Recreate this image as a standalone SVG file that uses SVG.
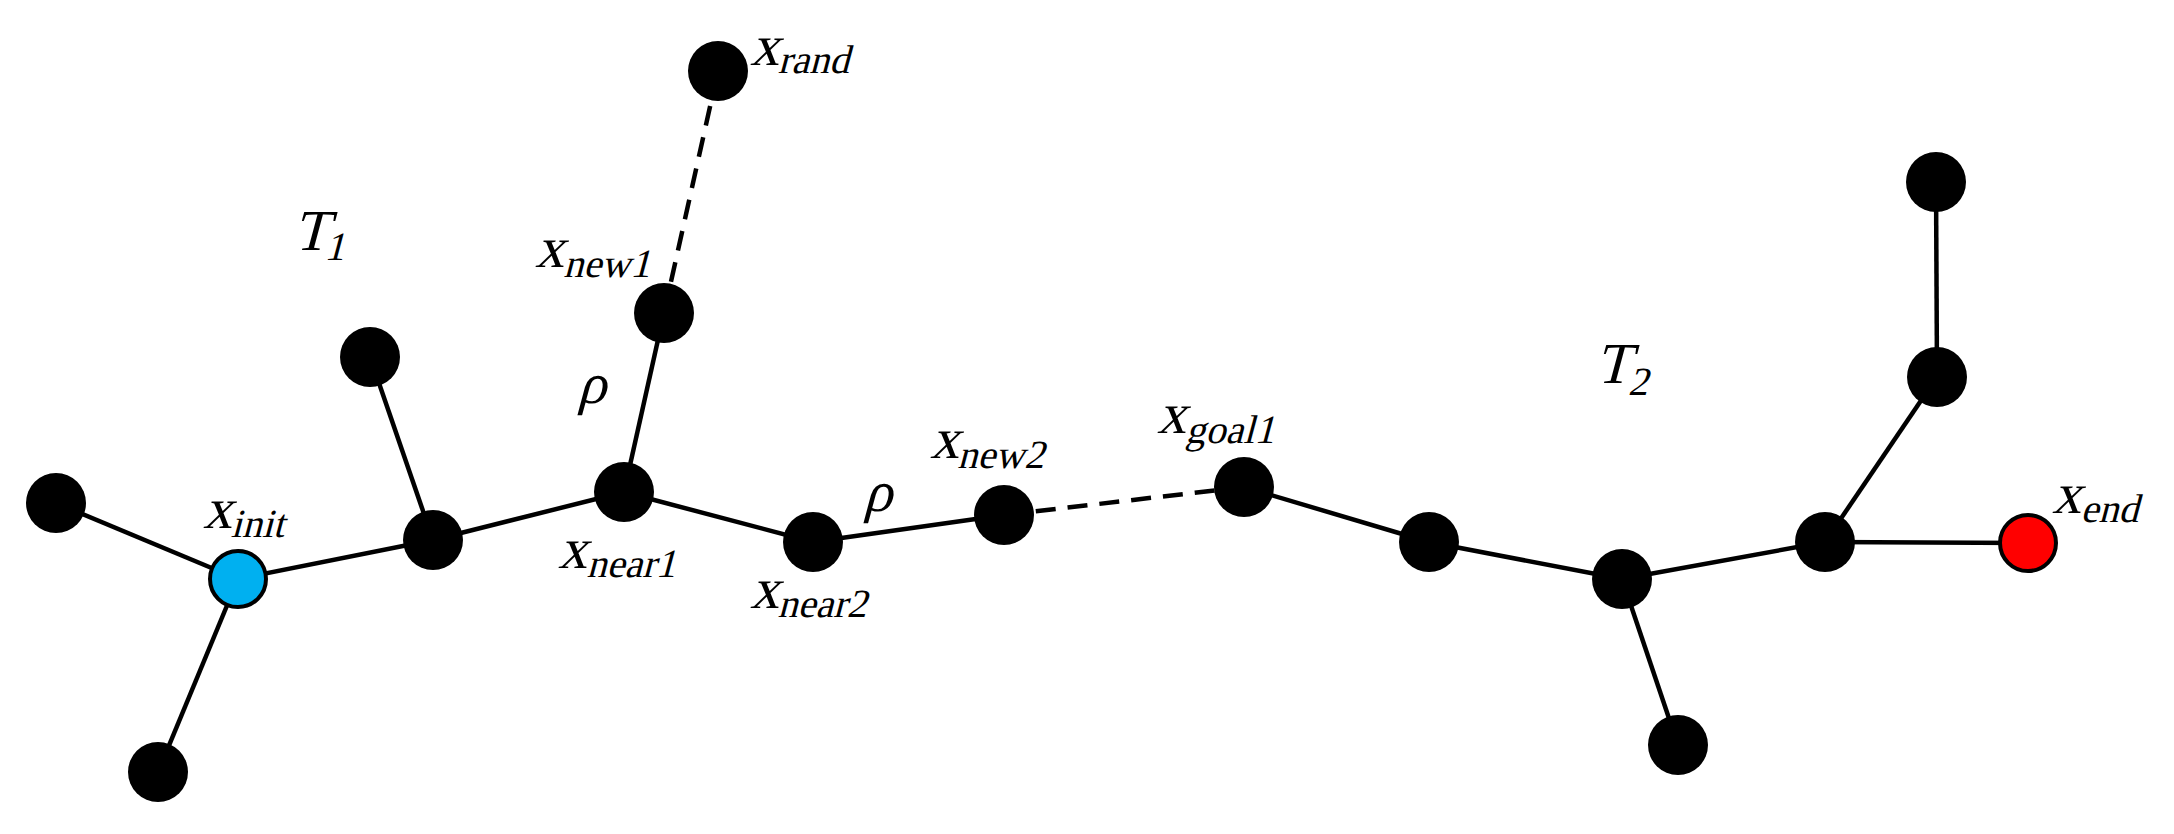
<svg xmlns="http://www.w3.org/2000/svg" width="2174" height="834" viewBox="0 0 2174 834">
<style>
.e{stroke:#000;stroke-width:4.5;fill:none}
.d{stroke:#000;stroke-width:4.5;fill:none;stroke-dasharray:20 12}
.n{fill:#000}
text{font-family:'Liberation Serif','Times New Roman',serif;font-size:58px;fill:#000}
.sub{font-size:40px}
</style>
<rect width="2174" height="834" fill="#fff"/>
<g id="connectors">
<line class="e" x1="56" y1="503" x2="238" y2="579"/>
<line class="e" x1="238" y1="579" x2="158" y2="772"/>
<line class="e" x1="238" y1="579" x2="433" y2="540"/>
<line class="e" x1="433" y1="540" x2="370" y2="357"/>
<line class="e" x1="433" y1="540" x2="624" y2="492"/>
<line class="e" x1="624" y1="492" x2="664" y2="313"/>
<line class="e" x1="624" y1="492" x2="813" y2="542"/>
<line class="e" x1="813" y1="542" x2="1004" y2="515"/>
<line class="d" x1="664" y1="313" x2="718" y2="71"/>
<line class="d" x1="1004" y1="515" x2="1244" y2="487"/>
<line class="e" x1="1244" y1="487" x2="1429" y2="542"/>
<line class="e" x1="1429" y1="542" x2="1622" y2="579"/>
<line class="e" x1="1622" y1="579" x2="1678" y2="745"/>
<line class="e" x1="1622" y1="579" x2="1825" y2="542"/>
<line class="e" x1="1825" y1="542" x2="2028" y2="543"/>
<line class="e" x1="1825" y1="542" x2="1937" y2="377"/>
<line class="e" x1="1937" y1="377" x2="1936" y2="182"/>
</g>
<g id="n_left"><circle class="n" cx="56" cy="503" r="30"/></g>
<g id="n_init"><circle cx="238" cy="579" r="28" fill="#00B0F0" stroke="#000" stroke-width="4"/>
<g transform="translate(203,528) skewX(-15)"><text x="0" y="0">x<tspan class="sub" x="30" y="9">init</tspan></text></g></g>
<g id="n_bottom_left"><circle class="n" cx="158" cy="772" r="30"/></g>
<g id="n_a"><circle class="n" cx="433" cy="540" r="30"/></g>
<g id="n_above"><circle class="n" cx="370" cy="357" r="30"/></g>
<g id="n_near1"><circle class="n" cx="624" cy="492" r="30"/>
<g transform="translate(558,568) skewX(-15)"><text x="0" y="0">x<tspan class="sub" x="31" y="9">near1</tspan></text></g></g>
<g id="n_new1"><circle class="n" cx="664" cy="313" r="30"/>
<g transform="translate(535,267) skewX(-15)"><text x="0" y="0">x<tspan class="sub" x="31" y="10">new1</tspan></text></g></g>
<g id="n_rand"><circle class="n" cx="718" cy="71" r="30"/>
<g transform="translate(750,65) skewX(-15)"><text x="0" y="0">x<tspan class="sub" x="30" y="8">rand</tspan></text></g></g>
<g id="n_near2"><circle class="n" cx="813" cy="542" r="30"/>
<g transform="translate(750,608) skewX(-15)"><text x="0" y="0">x<tspan class="sub" x="30" y="9">near2</tspan></text></g></g>
<g id="n_new2"><circle class="n" cx="1004" cy="515" r="30"/>
<g transform="translate(930,458) skewX(-15)"><text x="0" y="0">x<tspan class="sub" x="30" y="10">new2</tspan></text></g></g>
<g id="n_goal1"><circle class="n" cx="1244" cy="487" r="30"/>
<g transform="translate(1157,433) skewX(-15)"><text x="0" y="0">x<tspan class="sub" x="31" y="10">goal1</tspan></text></g></g>
<g id="n_b"><circle class="n" cx="1429" cy="542" r="30"/></g>
<g id="n_c"><circle class="n" cx="1622" cy="579" r="30"/></g>
<g id="n_bottom_right"><circle class="n" cx="1678" cy="745" r="30"/></g>
<g id="n_d"><circle class="n" cx="1825" cy="542" r="30"/></g>
<g id="n_end"><circle cx="2028" cy="543" r="28" fill="#FF0000" stroke="#000" stroke-width="4"/>
<g transform="translate(2052,513) skewX(-15)"><text x="0" y="0">x<tspan class="sub" x="31" y="9">end</tspan></text></g></g>
<g id="n_e"><circle class="n" cx="1937" cy="377" r="30"/></g>
<g id="n_top"><circle class="n" cx="1936" cy="182" r="30"/></g>
<g id="labels">
<g transform="translate(293,250) skewX(-15)"><text x="0" y="0">T<tspan class="sub" x="34" y="10">1</tspan></text></g>
<g transform="translate(1595,383) skewX(-15)"><text x="0" y="0">T<tspan class="sub" x="36" y="12">2</tspan></text></g>
<g transform="translate(577,403) skewX(-15)"><text x="0" y="0">ρ</text></g>
<g transform="translate(863,511) skewX(-15)"><text x="0" y="0">ρ</text></g>
</g>
</svg>
